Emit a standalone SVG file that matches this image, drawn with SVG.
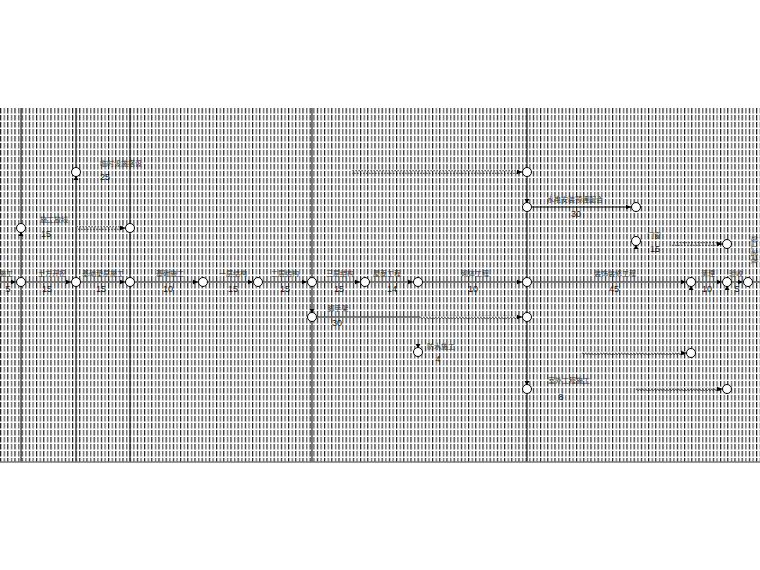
<svg xmlns="http://www.w3.org/2000/svg" width="760" height="570" viewBox="0 0 760 570">
<defs>
<pattern id="gridA" x="0" y="108" width="7.2" height="7" patternUnits="userSpaceOnUse">
<rect x="0" y="0" width="1.2" height="5.5" fill="#1a1a1a"/>
<rect x="3.6" y="0" width="1.4" height="5.5" fill="#6a6a6a"/>
</pattern>
<pattern id="wave" x="0" y="0" width="3" height="4" patternUnits="userSpaceOnUse">
<polyline points="0,2 0.75,0.8 2.25,3.2 3,2" fill="none" stroke="#222" stroke-width="0.7"/>
</pattern>
<marker id="ah" markerWidth="6" markerHeight="6" refX="5" refY="3" orient="auto" markerUnits="userSpaceOnUse">
<path d="M0,0.8 L5,3 L0,5.2 Z" fill="#000"/>
</marker>
</defs>
<style>
.nd{fill:#fff;stroke:#000;stroke-width:1}
.ln{stroke:#000;stroke-width:1;fill:none}
.vl{stroke:#000;stroke-width:1}
.num{font-family:"Liberation Sans",sans-serif;font-size:9px;fill:#111;text-anchor:middle}
.lb{font-family:"Liberation Sans","Noto Sans CJK SC",sans-serif;font-size:7px;fill:#333;text-anchor:middle}
.up{fill:#000}
</style>
<rect x="0" y="0" width="760" height="570" fill="#fff"/>
<g id="grid">
<rect x="0" y="108" width="760" height="354" fill="url(#gridA)"/>
<line class="vl" x1="21" y1="108" x2="21" y2="462"/>
<line class="vl" x1="76" y1="108" x2="76" y2="462"/>
<line class="vl" x1="130" y1="108" x2="130" y2="462"/>
<line class="vl" x1="312" y1="108" x2="312" y2="462"/>
<line class="vl" x1="527" y1="108" x2="527" y2="462"/>
<line x1="0" y1="462" x2="760" y2="462" stroke="#777" stroke-width="1.5"/>
</g>
<g id="connectors">
<line class="ln" x1="0" y1="282" x2="16" y2="282" marker-end="url(#ah)"/>
<line class="ln" x1="26" y1="282" x2="71" y2="282" marker-end="url(#ah)"/>
<line class="ln" x1="81" y1="282" x2="125" y2="282" marker-end="url(#ah)"/>
<line class="ln" x1="135" y1="282" x2="198" y2="282" marker-end="url(#ah)"/>
<line class="ln" x1="208" y1="282" x2="253" y2="282" marker-end="url(#ah)"/>
<line class="ln" x1="263" y1="282" x2="307" y2="282" marker-end="url(#ah)"/>
<line class="ln" x1="317" y1="282" x2="360" y2="282" marker-end="url(#ah)"/>
<line class="ln" x1="370" y1="282" x2="413" y2="282" marker-end="url(#ah)"/>
<line class="ln" x1="423" y1="282" x2="522" y2="282" marker-end="url(#ah)"/>
<line class="ln" x1="532" y1="282" x2="686" y2="282" marker-end="url(#ah)"/>
<line class="ln" x1="696" y1="282" x2="722" y2="282" marker-end="url(#ah)"/>
<line class="ln" x1="732" y1="282" x2="743" y2="282" marker-end="url(#ah)"/>
<line class="ln" x1="753" y1="282" x2="760" y2="282"/>
<rect x="77" y="226" width="46" height="4" fill="url(#wave)"/>
<line class="ln" x1="122" y1="228" x2="125" y2="228" marker-end="url(#ah)"/>
<rect x="352" y="170" width="168" height="4" fill="url(#wave)"/>
<line class="ln" x1="519" y1="172" x2="522" y2="172" marker-end="url(#ah)"/>
<line class="ln" x1="532" y1="207" x2="631" y2="207" marker-end="url(#ah)"/>
<rect x="672" y="242" width="48" height="4" fill="url(#wave)"/>
<line class="ln" x1="719" y1="244" x2="722" y2="244" marker-end="url(#ah)"/>
<line class="ln" x1="317" y1="317" x2="420" y2="317"/>
<rect x="420" y="315" width="100" height="4" fill="url(#wave)"/>
<line class="ln" x1="519" y1="317" x2="522" y2="317" marker-end="url(#ah)"/>
<rect x="582" y="351" width="102" height="4" fill="url(#wave)"/>
<line class="ln" x1="683" y1="353" x2="686" y2="353" marker-end="url(#ah)"/>
<rect x="636" y="387" width="84" height="4" fill="url(#wave)"/>
<line class="ln" x1="719" y1="389" x2="722" y2="389" marker-end="url(#ah)"/>
<path class="up" d="M76,176 l-2.5,4 h5 Z"/>
<path class="up" d="M21,232 l-2.5,4 h5 Z"/>
<path class="up" d="M527,203 l-2.5,-4 h5 Z"/>
<path class="up" d="M636,245 l-2.5,4 h5 Z"/>
<path class="up" d="M312,313 l-2.5,-4 h5 Z"/>
<path class="up" d="M418,348 l-2.5,-4 h5 Z"/>
<path class="up" d="M527,385 l-2.5,-4 h5 Z"/>
<path class="up" d="M691,286 l-2.5,4 h5 Z"/>
<path class="up" d="M727,286 l-2.5,4 h5 Z"/>
</g>
<g id="nodes">
<circle id="n1" class="nd" cx="21" cy="282" r="4.5"/>
<circle id="n2" class="nd" cx="76" cy="282" r="4.5"/>
<circle id="n3" class="nd" cx="130" cy="282" r="4.5"/>
<circle id="n4" class="nd" cx="203" cy="282" r="4.5"/>
<circle id="n5" class="nd" cx="258" cy="282" r="4.5"/>
<circle id="n6" class="nd" cx="312" cy="282" r="4.5"/>
<circle id="n7" class="nd" cx="365" cy="282" r="4.5"/>
<circle id="n8" class="nd" cx="418" cy="282" r="4.5"/>
<circle id="n9" class="nd" cx="527" cy="282" r="4.5"/>
<circle id="n10" class="nd" cx="691" cy="282" r="4.5"/>
<circle id="n11" class="nd" cx="727" cy="282" r="4.5"/>
<circle id="n12" class="nd" cx="748" cy="282" r="4.5"/>
<circle id="n13" class="nd" cx="76" cy="172" r="4.5"/>
<circle id="n14" class="nd" cx="21" cy="228" r="4.5"/>
<circle id="n15" class="nd" cx="130" cy="228" r="4.5"/>
<circle id="n16" class="nd" cx="527" cy="172" r="4.5"/>
<circle id="n17" class="nd" cx="527" cy="207" r="4.5"/>
<circle id="n18" class="nd" cx="636" cy="207" r="4.5"/>
<circle id="n19" class="nd" cx="636" cy="241" r="4.5"/>
<circle id="n20" class="nd" cx="727" cy="244" r="4.5"/>
<circle id="n21" class="nd" cx="312" cy="317" r="4.5"/>
<circle id="n22" class="nd" cx="527" cy="317" r="4.5"/>
<circle id="n23" class="nd" cx="418" cy="352" r="4.5"/>
<circle id="n24" class="nd" cx="691" cy="353" r="4.5"/>
<circle id="n25" class="nd" cx="527" cy="389" r="4.5"/>
<circle id="n26" class="nd" cx="727" cy="389" r="4.5"/>
</g>
<g id="labels">
<text class="lb" x="6" y="276">施工</text>
<text class="num" x="8" y="292">5</text>
<text class="lb" x="52" y="276">土方开挖</text>
<text class="num" x="47" y="292">15</text>
<text class="lb" x="103" y="276">基础垫层施工</text>
<text class="num" x="101" y="292">15</text>
<text class="lb" x="170" y="276">基础施工</text>
<text class="num" x="168" y="292">10</text>
<text class="lb" x="233" y="276">一层结构</text>
<text class="num" x="233" y="292">15</text>
<text class="lb" x="285" y="276">二层结构</text>
<text class="num" x="285" y="292">15</text>
<text class="lb" x="340" y="276">三层结构</text>
<text class="num" x="339" y="292">15</text>
<text class="lb" x="387" y="276">屋面工程</text>
<text class="num" x="392" y="292">14</text>
<text class="lb" x="475" y="276">砌体工程</text>
<text class="num" x="473" y="292">10</text>
<text class="lb" x="615" y="276">装饰装修工程</text>
<text class="num" x="614" y="292">45</text>
<text class="lb" x="708" y="276">清理</text>
<text class="num" x="707" y="292">10</text>
<text class="lb" x="736" y="276">验收</text>
<text class="num" x="737" y="292">5</text>
<text class="lb" x="121" y="166">临时设施搭设</text>
<text class="num" x="105" y="180">25</text>
<text class="lb" x="54" y="222">施工放线</text>
<text class="num" x="46" y="237">15</text>
<text class="lb" x="575" y="202">水电安装预埋配合</text>
<text class="num" x="576" y="217">30</text>
<text class="lb" x="654" y="238">门窗</text>
<text class="num" x="655" y="252">15</text>
<text class="lb" x="338" y="311">脚手架</text>
<text class="num" x="337" y="326">30</text>
<text class="lb" x="441" y="349">防水施工</text>
<text class="num" x="438" y="362">4</text>
<text class="lb" x="569" y="383">室外工程施工</text>
<text class="num" x="561" y="400">8</text>
<text class="lb" x="752" y="250" transform="rotate(90 752 250)">竣工验收</text>
</g>
</svg>
